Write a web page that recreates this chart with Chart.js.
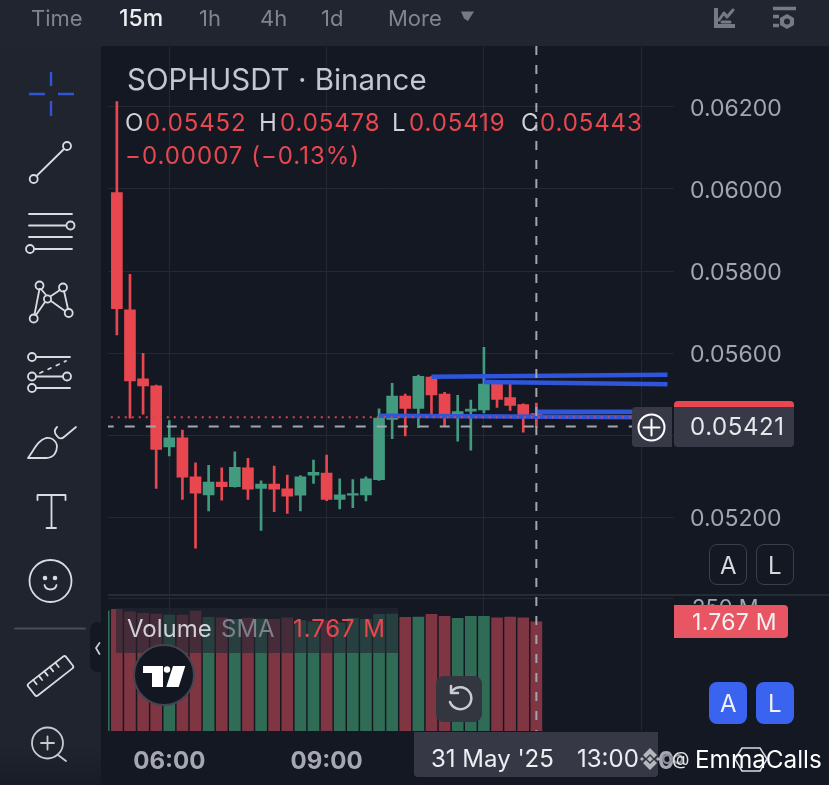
<!DOCTYPE html>
<html><head><meta charset="utf-8">
<style>
html,body{margin:0;padding:0;background:#141823;width:829px;height:785px;overflow:hidden}
#wrap{position:absolute;left:0;top:0;width:829px;height:785px;font-family:Inter,Roboto,sans-serif}
canvas{position:absolute;left:0;top:0}
.t{position:absolute;white-space:pre;line-height:1}
.box{position:absolute}
svg{position:absolute;left:0;top:0}
</style>
<script src="https://cdn.jsdelivr.net/npm/chart.js@4"></script>
</head><body><div id="wrap">
<canvas id="c" width="829" height="785"></canvas>
<div class="box" style="left:0;top:0;width:829px;height:46px;background:#21252f"></div>
<div class="box" style="left:108px;top:594px;width:721px;height:1.5px;background:#272b36"></div>
<div class="box" style="left:0;top:46px;width:108px;height:685px;background:#141823"></div>
<div class="box" style="left:0;top:46px;width:101px;height:739px;background:#20242f"></div>
<div class="box" style="left:0;top:745px;width:101px;height:40px;background:linear-gradient(#20242f,#181c26)"></div>
<div class="box" style="left:116px;top:608px;width:282px;height:45px;background:rgba(36,38,50,.62)"></div>
<div class="box" style="left:674px;top:401px;width:120px;height:30px;background:#e8474f;border-radius:4px"></div>
<div class="box" style="left:674px;top:407px;width:120px;height:40px;background:#373a46;border-radius:0 0 4px 4px"></div>
<div class="box" style="left:632px;top:407px;width:40px;height:40px;background:#373a46;border-radius:4px 0 0 4px"></div>
<div class="box" style="left:674px;top:605px;width:114px;height:33px;background:#e85563;border-radius:0 4px 4px 0"></div>
<div class="box" style="left:709px;top:544px;width:38px;height:41px;border:1.5px solid #3c3f4a;border-radius:8px;box-sizing:border-box"></div>
<div class="box" style="left:756px;top:544px;width:38px;height:41px;border:1.5px solid #3c3f4a;border-radius:8px;box-sizing:border-box"></div>
<div class="box" style="left:709px;top:682px;width:38px;height:42px;background:#3a64ef;border-radius:8px"></div>
<div class="box" style="left:756px;top:682px;width:38px;height:42px;background:#3a64ef;border-radius:8px"></div>
<div class="box" style="left:414px;top:732px;width:244px;height:45px;background:#363945;border-radius:0 0 4px 4px"></div>
<div class="box" style="left:436px;top:676px;width:46px;height:46px;background:#33353f;border-radius:8px"></div>
<div class="box" style="left:90px;top:622px;width:15px;height:50px;background:#141823;border-radius:8px"></div>
<div class="box" style="left:133px;top:644px;width:62px;height:62px;background:#131722;border:2px solid #43464f;border-radius:50%;box-sizing:border-box"></div>

<svg width="829" height="785" viewBox="0 0 829 785" fill="none" stroke="#d9dbe0" stroke-width="1.8" stroke-linecap="round" stroke-linejoin="round">
<g stroke="#2f55d4" stroke-width="2.4" stroke-linecap="butt"><path d="M51 72V86M51 101V116M29 94H45M58 94H74"/></g>
<path d="M36.5 176L64 149"/><circle cx="33.7" cy="179" r="4"/><circle cx="67" cy="146" r="4"/>
<path d="M29 214H72M29 225.5H66M29 237H72M35 249H72"/><circle cx="70.5" cy="225.5" r="4"/><circle cx="30" cy="249" r="4"/>
<path d="M39.5 289L34.5 314.500M41 289L46 295M36 315L45 302M51 296L60 290M51 301L65 311M64 291L68 309"/>
<circle cx="39.500" cy="285.500" r="4"/><circle cx="63" cy="287.500" r="4"/><circle cx="47.500" cy="299" r="3.600"/><circle cx="33.700" cy="318.500" r="4"/><circle cx="68.700" cy="313" r="4"/>
<path d="M36 357H70M36 376.500H63M36 388H70"/><circle cx="32" cy="357" r="4"/><circle cx="32" cy="376.500" r="4"/><circle cx="32" cy="388" r="4"/><circle cx="67" cy="376.500" r="4"/>
<path d="M40 373L66 361" stroke-dasharray="3 6"/>
<path d="M28 458H46C54 458 57 452 57 446C56 440 51 437 46 438C38 440 34 450 28 458Z"/>
<path d="M57 427C54 430 54 433 57 436C59 439 62 439 64 437L76 427"/>
<path d="M37.500 500V495H65.500V500M51.500 495V528M46.500 528H56"/>
<circle cx="50.500" cy="581" r="21"/><circle cx="45" cy="578" r="1.400" fill="#d9dbe0"/><circle cx="55" cy="578" r="1.400" fill="#d9dbe0"/><path d="M44.500 585C46 591 55 591 56.500 585"/>
<path d="M15 628.500H85" stroke="#4a4d57"/>
<path d="M99.500 643L96 648L99.500 654" stroke="#c9cbd1"/>
<g transform="translate(50.500 676) rotate(-38)"><rect x="-24" y="-7.500" width="48" height="15" rx="2"/><path d="M-16 -7.500V-2M-9 -7.500V-2M-2 -7.500V-2M5 -7.500V-2M12 -7.500V-2"/></g>
<circle cx="47.500" cy="743" r="15.500" stroke="#c8cad0"/><path d="M41 743H54M47.500 736.500V749.500M58 755L66 761" stroke="#c8cad0"/>
<path d="M716 8V26H735" stroke="#777a85" stroke-width="4" stroke-linecap="butt" stroke-linejoin="miter"/>
<path d="M719 20L724 13L727 17L733 10" stroke="#777a85" stroke-width="3"/><path d="M722 22H730" stroke="#777a85" stroke-width="3"/>
<path d="M773 8.500H796M773 16.500H779M773 25.500H779" stroke="#777a85" stroke-width="3.500" stroke-linecap="butt"/>
<path d="M787 14L794 18V25L787 29L780 25V18Z" fill="#777a85" stroke="none"/><circle cx="787" cy="21.500" r="3" fill="#21252f" stroke="none"/>
<path d="M464 21.500L461 14.500H474L468 24Z" fill="#777a85" stroke="none" transform="translate(0 -3)"/>
<circle cx="651.500" cy="427.500" r="13" stroke="#fff" stroke-width="2"/><path d="M643.500 427.500H659.500M651.500 419.500V435.500" stroke="#fff" stroke-width="2"/>
<path d="M143 666H163V687H152V673H143ZM173 666H185.300L178.700 687H166.300Z" fill="#fff" stroke="none"/><circle cx="167" cy="669.500" r="3.200" fill="#fff" stroke="none"/>
<path d="M452 691A11 11 0 1 1 450 702M451 686V693H458" stroke="#c9cbd1" stroke-width="2.500"/>
<g fill="#d6d7da" stroke="none" opacity=".8"><path d="M650 748L657 755L654 758L650 754L646 758L643 755ZM650 770L643 763L646 760L650 764L654 760L657 763ZM650 756L653 759L650 762L647 759ZM640 759L642 757L644 759L642 761ZM656 759L658 757L660 759L658 761Z"/></g>
<path d="M742 748H760L767 759L760 771H742L735 759Z" stroke="#d8dade" stroke-width="1.500"/>
</svg>

<span class="t" style="left:31px;top:7px;font-size:22px;color:#81848e">Time</span>
<span class="t" style="left:119px;top:7px;font-size:23px;font-weight:500;color:#eceef2">15m</span>
<span class="t" style="left:199px;top:7px;font-size:22px;color:#81848e">1h</span>
<span class="t" style="left:260px;top:7px;font-size:22px;color:#81848e">4h</span>
<span class="t" style="left:321px;top:7px;font-size:22px;color:#81848e">1d</span>
<span class="t" style="left:388px;top:7px;font-size:22px;color:#81848e">More</span>

<span class="t" style="left:127px;top:65px;font-size:29.5px;color:#c4c7cf">SOPHUSDT · Binance</span>
<span class="t" style="left:125px;top:111px;font-size:24px;color:#cfd1d8">O</span>
<span class="t" style="left:145px;top:111px;font-size:24px;letter-spacing:.9px;color:#e8474f">0.05452</span>
<span class="t" style="left:259px;top:111px;font-size:24px;color:#cfd1d8">H</span>
<span class="t" style="left:280px;top:111px;font-size:24px;letter-spacing:.9px;color:#e8474f">0.05478</span>
<span class="t" style="left:392px;top:111px;font-size:24px;color:#cfd1d8">L</span>
<span class="t" style="left:409px;top:111px;font-size:24px;letter-spacing:.9px;color:#e8474f">0.05419</span>
<span class="t" style="left:521px;top:111px;font-size:24px;color:#cfd1d8">C</span>
<span class="t" style="left:540px;top:111px;font-size:24px;letter-spacing:.9px;color:#e8474f">0.05443</span>
<span class="t" style="left:125px;top:144px;font-size:24px;letter-spacing:1px;color:#e8474f">−0.00007 (−0.13%)</span>

<span class="t" style="left:690px;top:415px;font-size:24px;color:#e6e7ea;letter-spacing:.6px">0.05421</span>
<span class="t" style="left:692px;top:611px;font-size:23px;color:#f2f2f4;letter-spacing:.3px">1.767 M</span>
<span class="t" style="left:720px;top:554px;font-size:24px;color:#d7d9de">A</span>
<span class="t" style="left:768px;top:554px;font-size:24px;color:#d7d9de">L</span>
<span class="t" style="left:720px;top:692px;font-size:24px;color:#f0f2f8">A</span>
<span class="t" style="left:768px;top:692px;font-size:24px;color:#f0f2f8">L</span>

<span class="t" style="left:127px;top:617px;font-size:24px;color:#cfd1d8">Volume</span>
<span class="t" style="left:221px;top:617px;font-size:24px;color:#7d808a">SMA</span>
<span class="t" style="left:293px;top:617px;font-size:24px;letter-spacing:.9px;color:#e8474f">1.767 M</span>

<span class="t" style="left:431px;top:747px;font-size:24px;color:#eceef2">31 May '25</span>
<span class="t" style="left:577px;top:747px;font-size:24px;color:#eceef2">13:00</span>
<span class="t" style="left:661px;top:746px;font-size:25px;color:#8b8d95">∞</span>
<span class="t" style="left:672px;top:750px;font-size:18px;color:#e4e5e8">@</span>
<span class="t" style="left:695px;top:747px;font-size:24.3px;color:#ffffff">EmmaCalls</span>
</div>
<script>
const categories=["04:45","05:00","05:15","05:30","05:45","06:00","06:15","06:30","06:45","07:00","07:15","07:30","07:45","08:00","08:15","08:30","08:45","09:00","09:15","09:30","09:45","10:00","10:15","10:30","10:45","11:00","11:15","11:30","11:45","12:00","12:15","12:30","12:45","13:00","13:15","13:30","13:45","14:00","14:15","14:30","14:45","15:00","15:15","15:30"];
const opens =[null,.05991,.05705,.05537,.05520,.05371,.05393,.05298,.05254,.05285,.05274,.05320,.05270,.05280,.05269,.05253,.05302,.05307,.05243,.05253,.05254,.05291,.05438,.05495,.05465,.05541,.05500,.05446,.05458,.05461,.05524,.05491,.05474,.05452];
const highs =[null,.06213,.05792,.05599,.05522,.05435,.05412,.05332,.05326,.05320,.05359,.05343,.05288,.05324,.05302,.05301,.05339,.05351,.05293,.05291,.05298,.05464,.05526,.05500,.05546,.05543,.05504,.05497,.05485,.05614,.05529,.05532,.05476,.05478];
const lows  =[null,.05644,.05441,.05451,.05270,.05349,.05243,.05124,.05215,.05241,.05273,.05243,.05167,.05213,.05209,.05215,.05282,.05240,.05220,.05223,.05239,.05289,.05391,.05398,.05418,.05451,.05422,.05385,.05363,.05454,.05467,.05460,.05407,.05419];
const closes=[null,.05708,.05532,.05520,.05365,.05393,.05297,.05258,.05285,.05274,.05321,.05268,.05280,.05268,.05251,.05298,.05309,.05243,.05254,.05257,.05293,.05441,.05495,.05465,.05543,.05498,.05447,.05457,.05463,.05524,.05487,.05472,.05448,.05443];
const volumes=[17.67,23.7,14.3,10.2,8.86,7.18,7.18,16.6,4.44,4.08,2.92,3.83,3.11,2.92,4.08,2.18,1.767,2.18,1.43,3.6,2.92,8.32,8.86,4.44,4.72,8.32,5.47,3.6,5.47,5.47,4.08,4.72,4.08,1.767];
const priceTicks=[.062,.06,.058,.056,.054,.052];
const volumeTicks=[250];
const shownTimes=["06:00","09:00","12:00","15:00"];
const crosshairTime="13:00";
const lastClose=.05443;
const crosshairPrice=.05421;
const trend1=[["11:00",.05542],["15:30",.05547]];
const trend2=[["12:00",.05529],["15:30",.05524]];
const trend3=[["10:00",.05447],["15:00",.05443]];
const trend4=[["13:00",.05457],["15:00",.05457]];

const RED="#e8474f",GREEN="#429a7f",VRED="#7f3542",VGREEN="#2f6b55",GRID="#242832",BLUE="#2e55dc";
const isUp=i=>opens[i]===null||closes[i]>=opens[i];
const pts=a=>a.map(p=>({x:p[0],y:p[1]}));
const lineDs=(data,color,w,dash,order)=>({type:"line",data,borderColor:color,borderWidth:w,borderDash:dash,pointRadius:0,yAxisID:"y",order,tension:0,borderCapStyle:"butt"});
const crossV={id:"crossV",afterDatasetsDraw(ch){
  const x=ch.scales.x.getPixelForValue(categories.indexOf(crosshairTime));
  const g=ch.ctx;g.save();g.strokeStyle="#a2a5ad";g.lineWidth=2;g.setLineDash([9,10]);
  g.beginPath();g.moveTo(x,46);g.lineTo(x,ch.chartArea.bottom);g.stroke();g.restore();
}};
new Chart(document.getElementById("c"),{
 data:{labels:categories,datasets:[
  {type:"bar",label:"Volume",yAxisID:"yVol",data:volumes,barThickness:11,grouped:false,order:6,backgroundColor:volumes.map((v,i)=>isUp(i)?VGREEN:VRED)},
  {type:"bar",label:"Wick",yAxisID:"y",data:highs.map((h,i)=>h===null?null:[lows[i],h]),barThickness:2,grouped:false,order:5,backgroundColor:highs.map((v,i)=>isUp(i)?GREEN:RED)},
  {type:"bar",label:"Body",yAxisID:"y",data:opens.map((o,i)=>o===null?null:[o,closes[i]]),barThickness:11,grouped:false,order:4,backgroundColor:opens.map((v,i)=>isUp(i)?GREEN:RED)},
  lineDs(categories.map(c=>({x:c,y:crosshairPrice})),"#a2a5ad",2,[10,11],3),
  lineDs(pts(trend1),BLUE,4.5,[],2),
  lineDs(pts(trend2),BLUE,4.5,[],2),
  lineDs(pts(trend3),BLUE,4.5,[],2),
  lineDs(pts(trend4),BLUE,4.5,[],2),
  lineDs(categories.map(c=>({x:c,y:lastClose})),"#d8434b",2,[2,5],1)
 ]},
 options:{responsive:false,animation:false,events:[],devicePixelRatio:1,
  layout:{padding:{left:97.2,top:47,right:0,bottom:0}},
  plugins:{legend:{display:false},tooltip:{enabled:false},title:{display:false}},
  scales:{
   x:{type:"category",offset:true,position:"bottom",border:{display:false},
     grid:{offset:false,drawTicks:false,color:c=>shownTimes.includes(categories[c.index])?GRID:"transparent"},
     afterFit:s=>{s.height=54},
     ticks:{autoSkip:false,maxRotation:0,minRotation:0,padding:16,color:"#a5a8b2",font:{family:"Inter",size:24,weight:"bold"},
       callback:(v,i)=>shownTimes.includes(categories[i])?categories[i]:""}},
   y:{type:"linear",position:"right",stack:"panes",stackWeight:549,weight:0,min:.0500732,max:.0634634,border:{display:false},
     grid:{color:GRID,drawTicks:false},
     afterFit:s=>{s.width=155},
     afterBuildTicks:s=>{s.ticks=priceTicks.map(v=>({value:v}))},
     ticks:{padding:16,labelOffset:2,color:"#a3a6af",font:{family:"Inter",size:23},callback:v=>v.toFixed(5)}},
   yVol:{type:"logarithmic",position:"right",stack:"panes",stackWeight:135,weight:1,min:2.05e-10,max:384,border:{display:false},
     grid:{color:GRID,drawTicks:false},
     afterFit:s=>{s.width=155},
     afterBuildTicks:s=>{s.ticks=volumeTicks.map(v=>({value:v}))},
     ticks:{padding:18,labelOffset:10,color:"#a3a6af",font:{family:"Inter",size:22},callback:v=>v+" M"}}
  }},
 plugins:[crossV]
});
</script>
</body></html>
